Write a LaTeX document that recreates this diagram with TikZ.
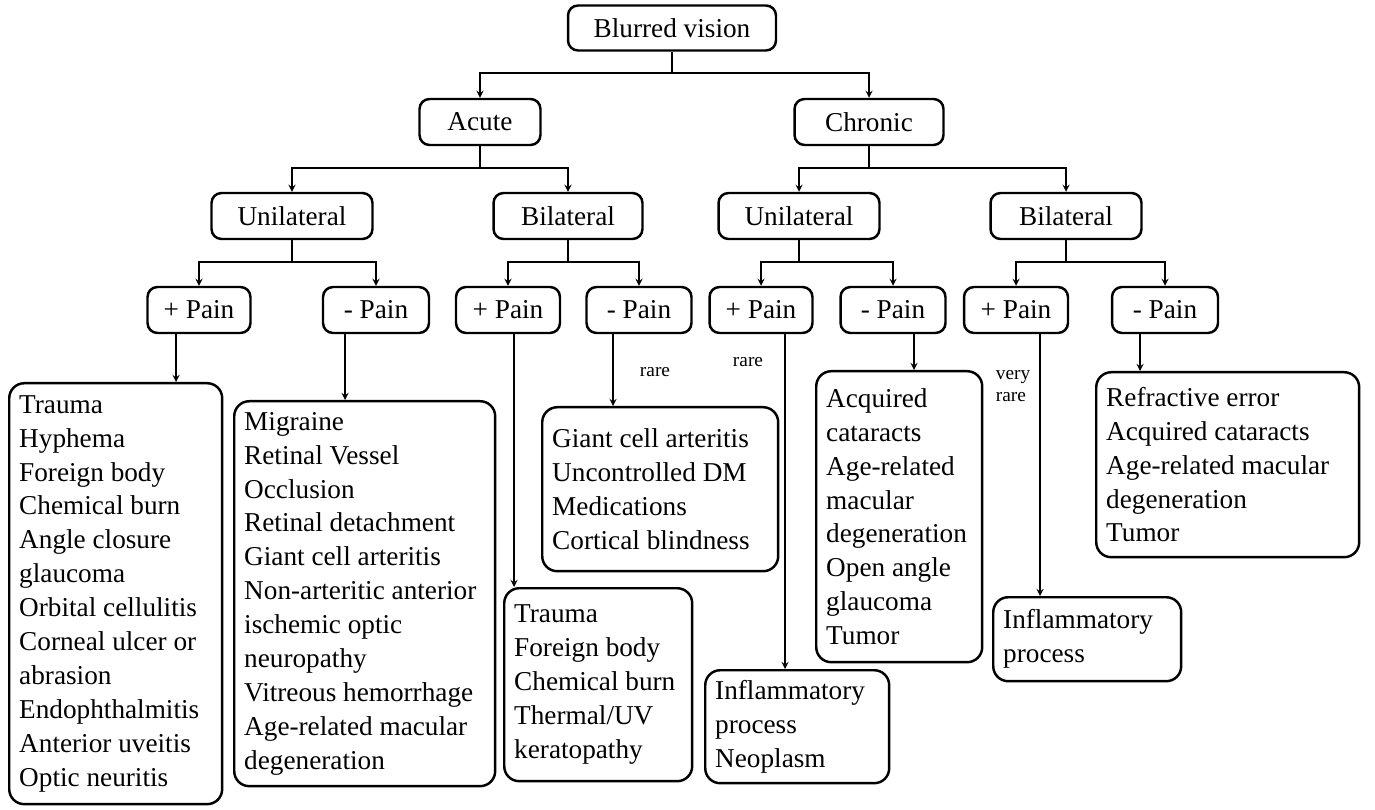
\documentclass[tikz,border=0pt]{standalone}
\usepackage{fontspec}
\setmainfont{Liberation Serif}
\usetikzlibrary{calc}
\begin{document}
\begin{tikzpicture}[x=0.02cm,y=-0.02cm,
  font=\fontsize{15.5}{19.3}\selectfont,
  bx/.style={draw,line width=1.4pt,rounded corners=0.2cm,minimum height=0.92cm,inner sep=2pt},
  lst/.style={draw,line width=1.4pt,rounded corners=0.3cm,anchor=north west,align=flush left,inner xsep=0.2cm,inner ysep=2pt},
  ln/.style={line width=0.8pt},
  arr/.style={ln,->,>=stealth},
  lab/.style={font=\fontsize{11}{13}\selectfont,align=flush left}]
\useasboundingbox (0,0) rectangle (1375,810);
\node[bx,minimum width=4.16cm,minimum height=0.9cm] (bv) at (672,28) {Blurred vision};
\node[bx,minimum width=2.42cm] (ac) at (480,122) {Acute};
\node[bx,minimum width=2.98cm] (ch) at (869,122) {Chronic};
\node[bx,minimum width=3.22cm] (au) at (292,216) {Unilateral};
\node[bx,minimum width=2.98cm] (ab) at (568,216) {Bilateral};
\node[bx,minimum width=3.22cm] (cu) at (799,216) {Unilateral};
\node[bx,minimum width=3.02cm] (cb) at (1066,216) {Bilateral};
\node[bx,minimum width=2.06cm] (p1) at (199,310) {+ Pain};
\node[bx,minimum width=2.12cm] (p2) at (376,310) {- Pain};
\node[bx,minimum width=2.08cm] (p3) at (508,310) {+ Pain};
\node[bx,minimum width=2.1cm] (p4) at (639,310) {- Pain};
\node[bx,minimum width=2.06cm] (p5) at (761,310) {+ Pain};
\node[bx,minimum width=2.1cm] (p6) at (893,310) {- Pain};
\node[bx,minimum width=2.08cm] (p7) at (1016,310) {+ Pain};
\node[bx,minimum width=2.12cm] (p8) at (1165,310) {- Pain};

\node[lst,text width=3.86cm,minimum height=8.42cm] (l1) at (8,382) {Trauma\\Hyphema\\Foreign body\\Chemical burn\\Angle closure\\glaucoma\\Orbital cellulitis\\Corneal ulcer or\\abrasion\\Endophthalmitis\\Anterior uveitis\\Optic neuritis};
\node[lst,text width=4.82cm,minimum height=7.7cm] (l2) at (233,400) {Migraine\\Retinal Vessel\\Occlusion\\Retinal detachment\\Giant cell arteritis\\Non-arteritic anterior\\ischemic optic\\neuropathy\\Vitreous hemorrhage\\Age-related macular\\degeneration};
\node[lst,text width=4.32cm,minimum height=3.28cm] (l3) at (541,406) {Giant cell arteritis\\Uncontrolled DM\\Medications\\Cortical blindness};
\node[lst,text width=3.36cm,minimum height=3.86cm] (l4) at (503,587) {Trauma\\Foreign body\\Chemical burn\\Thermal/UV\\keratopathy};
\node[lst,text width=3.28cm,minimum height=2.26cm] (l5) at (704,669) {Inflammatory\\process\\Neoplasm};
\node[lst,text width=2.92cm,minimum height=5.82cm] (l6) at (815,370) {Acquired\\cataracts\\Age-related\\macular\\degeneration\\Open angle\\glaucoma\\Tumor};
\node[lst,text width=3.36cm,minimum height=1.68cm] (l7) at (992,596) {Inflammatory\\process};
\node[lst,text width=4.86cm,minimum height=3.7cm] (l8) at (1095,371) {Refractive error\\Acquired cataracts\\Age-related macular\\degeneration\\Tumor};

\coordinate (j0) at (672,73);
\draw[ln] (bv.south) -- (j0);
\draw[arr] (j0) -| (ac.north);
\draw[arr] (j0) -| (ch.north);
\foreach \p/\a/\b/\y in {ac/au/ab/168, ch/cu/cb/168, au/p1/p2/262, ab/p3/p4/262, cu/p5/p6/262, cb/p7/p8/262}{
  \coordinate (t) at (\p.south |- 0,\y);
  \draw[ln] (\p.south) -- (t);
  \draw[arr] (t) -| (\a.north);
  \draw[arr] (t) -| (\b.north);
}
\foreach \p/\l/\x in {p1/l1/176, p2/l2/345, p3/l4/514, p4/l3/613, p5/l5/785, p6/l6/914, p7/l7/1040, p8/l8/1140}{
  \draw[arr] (\p.south -| \x,0) -- (\l.north -| \x,0);
}
\node[lab] at (655,372) {rare};
\node[lab] at (748,362) {rare};
\node[lab] at (1013,386) {very\\rare};
\end{tikzpicture}
\end{document}
